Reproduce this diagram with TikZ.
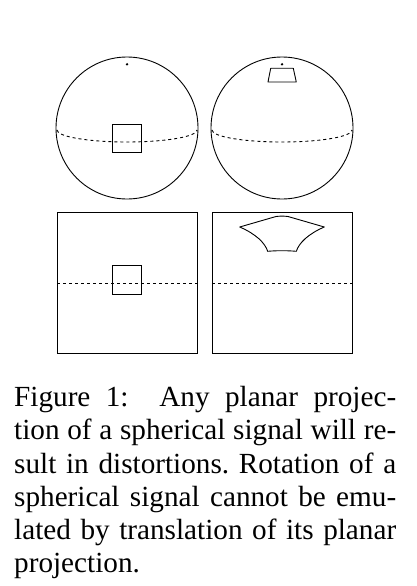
\documentclass[tikz,border=0pt]{standalone}
\usepackage{fontspec}
\setmainfont{Liberation Serif}
\frenchspacing
\begin{document}
\begin{tikzpicture}[x=1pt,y=-1pt,
  outline/.style={line width=0.9pt,black},
  equator/.style={line width=0.9pt,black,dash pattern=on 3pt off 3pt},
  capline/.style={anchor=base west,inner sep=0pt,font=\fontsize{29.2}{33}\selectfont}]
\useasboundingbox (0,0) rectangle (416,586);
% spheres
\draw[outline] (127,128) circle[radius=71];
\draw[equator] (57,130) arc[start angle=180,end angle=0,x radius=70,y radius=12];
\fill (127,64.3) circle[radius=1.3];
\draw[outline] (112.7,124.3) rectangle (141,152.7);

\draw[outline] (282,128) circle[radius=71];
\draw[equator] (212,130) arc[start angle=180,end angle=0,x radius=70,y radius=12];
\fill (282,64.3) circle[radius=1.3];
\draw[outline,line join=round] (270.7,68.3) -- (293.3,68.3) -- (296.3,82) -- (268,82) -- cycle;

% planar projections
\draw[outline] (57,212) rectangle (197,353);
\draw[equator] (57,283.3) -- (197,283.3);
\draw[outline] (112.7,265.3) rectangle (141,294);

\draw[outline] (212,212) rectangle (352,353);
\draw[equator] (212,283.3) -- (352,283.3);
\draw[outline,line join=round] (239.7,227) -- (276,216.5) .. controls (280,216) and (284,216) .. (288,216.5) -- (324.3,227)
  .. controls (308,234) and (299,243) .. (296.3,251.3)
  .. controls (287,250.5) and (277,250.5) .. (267.7,251.3)
  .. controls (265,243) and (256,234) .. (239.7,227) -- cycle;

% caption
\node[capline] (l1) at (14,406.7) {\makebox[382pt][s]{Figure 1:\ \ Any planar projec-}};
\node[capline] (l2) at (14,439.9) {\makebox[382pt][s]{tion of a spherical signal will re-}};
\node[capline] (l3) at (14,473.1) {\makebox[382pt][s]{sult in distortions. Rotation of a}};
\node[capline] (l4) at (14,506.3) {\makebox[382pt][s]{spherical signal cannot be emu-}};
\node[capline] (l5) at (14,539.5) {\makebox[382pt][s]{lated by translation of its planar}};
\node[capline] (l6) at (14,572.7) {projection.};
\end{tikzpicture}
\end{document}
